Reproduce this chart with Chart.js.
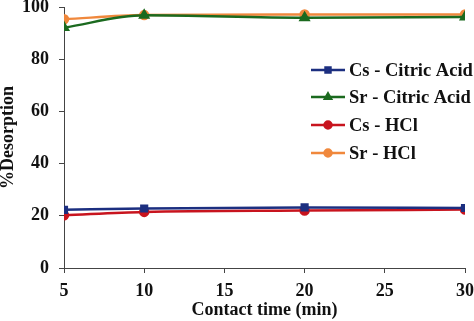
<!DOCTYPE html>
<html>
<head>
<meta charset="utf-8">
<script src="https://cdn.jsdelivr.net/npm/chart.js@4"></script>
<style>
  html, body { margin: 0; padding: 0; background: #fff; }
  #wrap { width: 474px; height: 321px; }
</style>
</head>
<body>
<div id="wrap"><canvas id="chart" width="474" height="321"></canvas></div>
<script>
// Values
const times = [5, 10, 20, 30];
const csCitric = [22.3, 22.8, 23.2, 23.0];
const srCitric = [92.1, 96.8, 95.9, 96.2];
const csHcl = [20.2, 21.5, 22.0, 22.4];
const srHcl = [95.3, 96.9, 97.1, 97.1];
const seriesNames = ['Cs - Citric Acid', 'Sr - Citric Acid', 'Cs - HCl', 'Sr - HCl'];

const FONT = "'Liberation Serif', 'Times New Roman', serif";

function toPoints(vals) {
    return times.map((t, i) => ({ x: t, y: vals[i] }));
}

// legend drawn inside the plot, line sample with marker in the middle
const insideLegend = {
    id: 'insideLegend',
    afterDraw(chart) {
        const ctx = chart.ctx;
        const x0 = 311, x1 = 345, textX = 349;
        const rows = [70, 97, 125, 153];
        ctx.save();
        chart.data.datasets.forEach((ds, i) => {
            const y = rows[i];
            ctx.strokeStyle = ds.borderColor;
            ctx.lineWidth = 2.5;
            ctx.beginPath();
            ctx.moveTo(x0, y);
            ctx.lineTo(x1, y);
            ctx.stroke();
            ctx.fillStyle = ds.pointBackgroundColor;
            Chart.helpers.drawPoint(ctx, {
                pointStyle: ds.pointStyle,
                radius: 3.5,
                rotation: 0,
                borderWidth: 1
            }, (x0 + x1) / 2, y);
            ctx.fillStyle = '#111';
            ctx.font = 'bold 18.5px ' + FONT;
            ctx.textBaseline = 'middle';
            ctx.textAlign = 'left';
            ctx.fillText(ds.label, textX, y + 1);
        });
        ctx.restore();
    }
};

const colors = ['#1c2f80', '#1b6a1f', '#c8141e', '#f0883c'];
const styles = ['rect', 'triangle', 'circle', 'circle'];
const values = [csCitric, srCitric, csHcl, srHcl];

new Chart(document.getElementById('chart'), {
    type: 'line',
    data: {
        datasets: values.map((v, i) => ({
            label: seriesNames[i],
            data: toPoints(v),
            borderColor: colors[i],
            backgroundColor: colors[i],
            pointBackgroundColor: colors[i],
            pointBorderColor: colors[i],
            pointStyle: styles[i],
            pointRadius: styles[i] === 'triangle' ? 4.5 : 4,
            borderWidth: 2.5,
            cubicInterpolationMode: 'monotone',
            fill: false
        }))
    },
    plugins: [insideLegend],
    options: {
        responsive: false,
        animation: false,
        layout: { padding: { top: 7, right: 9, left: 0, bottom: 0 } },
        plugins: {
            legend: { display: false },
            tooltip: { enabled: false }
        },
        scales: {
            x: {
                type: 'linear',
                min: 5,
                max: 30,
                afterFit(scale) {
                    scale.height = 53;
                    scale.paddingLeft = 0;
                    scale.paddingRight = 0;
                },
                ticks: {
                    stepSize: 5,
                    color: '#111',
                    font: { family: FONT, size: 18, weight: 'bold' },
                    padding: 8
                },
                grid: { drawOnChartArea: false, drawTicks: true, tickLength: 5, color: '#444' },
                border: { color: '#444', width: 1 },
                title: {
                    display: true,
                    text: 'Contact time (min)',
                    color: '#111',
                    font: { family: FONT, size: 18, weight: 'bold' },
                    padding: { top: 0, bottom: 0 }
                }
            },
            y: {
                min: 0,
                max: 100,
                afterFit(scale) {
                    scale.width = 64;
                    scale.paddingTop = 0;
                    scale.paddingBottom = 0;
                },
                ticks: {
                    stepSize: 20,
                    color: '#111',
                    font: { family: FONT, size: 18, weight: 'bold' },
                    padding: 10
                },
                grid: { drawOnChartArea: false, drawTicks: true, tickLength: 5, color: '#444' },
                border: { color: '#444', width: 1 },
                title: {
                    display: true,
                    text: '%Desorption',
                    color: '#111',
                    font: { family: FONT, size: 18, weight: 'bold' },
                    padding: { top: -2, bottom: 0 }
                }
            }
        }
    }
});
</script>
</body>
</html>
